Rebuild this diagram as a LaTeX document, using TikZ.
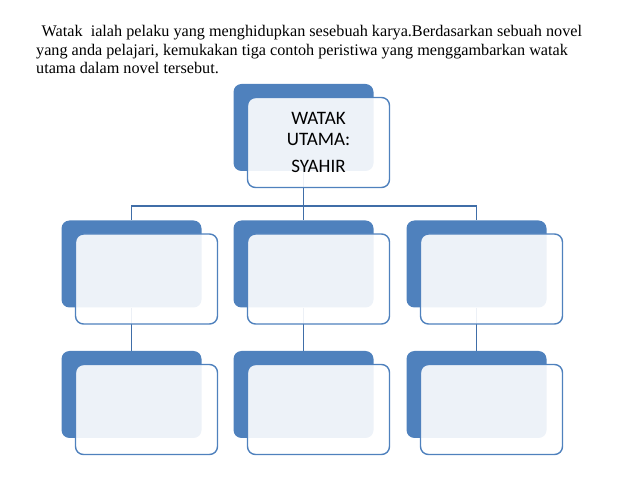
\documentclass[tikz,border=0pt]{standalone}
\usepackage{fontspec}
\setmainfont{Liberation Serif}
\newfontfamily\calibri{Carlito}
\usepackage{xcolor}
\usetikzlibrary{backgrounds}
\definecolor{boxblue}{RGB}{79,129,189}
\definecolor{lineblue}{RGB}{64,110,168}

\begin{document}
\begin{tikzpicture}[x=1pt, y=-1pt,
    back/.style={fill=boxblue, rounded corners=8pt, minimum width=140pt, minimum height=87pt, inner sep=0pt},
    front/.style={draw=boxblue, line width=1.4pt, fill=white, fill opacity=0.9, text opacity=1, rounded corners=8pt,
        minimum width=142pt, minimum height=90pt, inner sep=0pt, align=center, font=\calibri\fontsize{19}{21}\selectfont},
    link/.style={draw=lineblue, line width=1.5pt},
    txt/.style={anchor=base west, inner sep=0pt, font=\fontsize{16.2}{18}\selectfont}]
    \useasboundingbox (0,0) rectangle (638,478);

    \node[txt] (line1) at (41.5,37) {Watak\ \ ialah pelaku yang menghidupkan sesebuah karya.Berdasarkan sebuah novel};
    \node[txt] (line2) at (36,55.3) {yang anda pelajari, kemukakan tiga contoh peristiwa yang menggambarkan watak};
    \node[txt] (line3) at (36,73.6) {utama dalam novel tersebut.};

    \node[back] (main) at (303.5,127.5) {};
    \node[front] (mainT) at (318.5,142.5) {WATAK\\UTAMA:\\[6pt]SYAHIR};

    \node[back] (A1) at (131.5,264) {};
    \node[back] (A2) at (303.5,264) {};
    \node[back] (A3) at (476.5,264) {};
    \node[front] (A1T) at (146.5,279) {};
    \node[front] (A2T) at (318.5,279) {};
    \node[front] (A3T) at (491.5,279) {};

    \node[back] (B1) at (131.5,394.5) {};
    \node[back] (B2) at (303.5,394.5) {};
    \node[back] (B3) at (476.5,394.5) {};
    \node[front] (B1T) at (146.5,409.5) {};
    \node[front] (B2T) at (318.5,409.5) {};
    \node[front] (B3T) at (491.5,409.5) {};

    \begin{scope}[on background layer]
        \coordinate (bar) at (0,206);
        \draw[link] (main) -- (main |- bar) -| (A1);
        \draw[link] (main |- bar) -| (A3);
        \draw[link] (main) -- (A2);
        \draw[link] (A1) -- (B1);
        \draw[link] (A2) -- (B2);
        \draw[link] (A3) -- (B3);
    \end{scope}
\end{tikzpicture}
\end{document}
